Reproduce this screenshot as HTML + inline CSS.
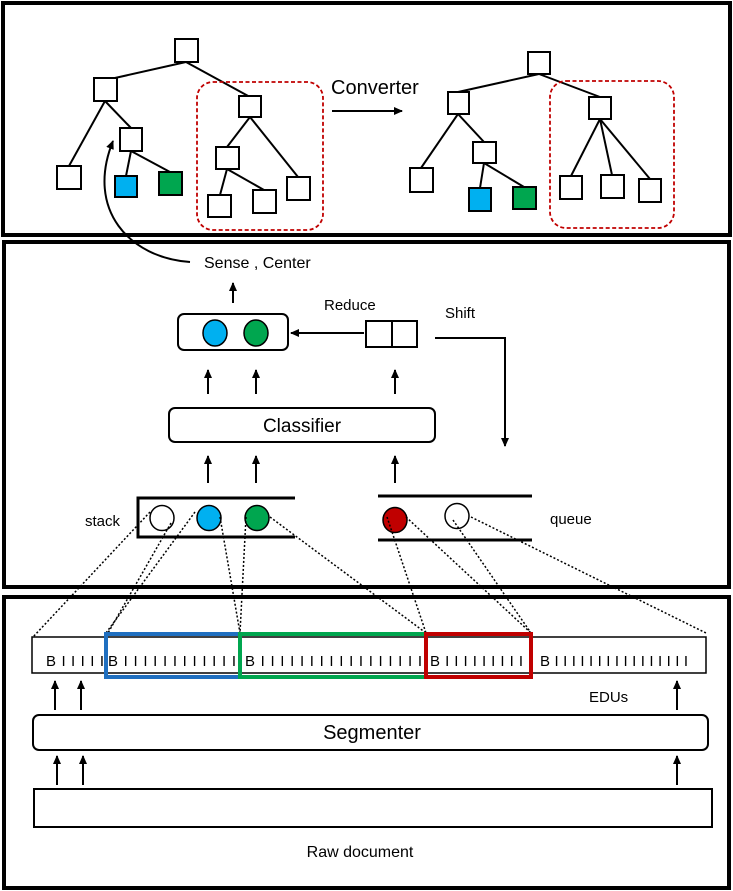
<!DOCTYPE html>
<html><head><meta charset="utf-8"><style>
html,body{margin:0;padding:0;background:#fff;}
svg{display:block;font-family:"Liberation Sans",sans-serif;}
</style></head><body>
<svg width="733" height="891" viewBox="0 0 733 891" xmlns="http://www.w3.org/2000/svg">
<defs>
<marker id="ah" markerWidth="10" markerHeight="10" refX="8" refY="5" orient="auto" markerUnits="userSpaceOnUse"><path d="M0,1 L9,5 L0,9 z" fill="#000"/></marker>
</defs>
<!-- panels -->
<rect x="3" y="3" width="727" height="232" fill="none" stroke="#000" stroke-width="4"/>
<rect x="4" y="242" width="725" height="345" fill="none" stroke="#000" stroke-width="4"/>
<rect x="4" y="597" width="725" height="291" fill="none" stroke="#000" stroke-width="4"/>

<!-- left tree lines -->
<g stroke="#000" stroke-width="2" fill="none">
<line x1="186" y1="62" x2="106" y2="80"/>
<line x1="186" y1="62" x2="250" y2="97"/>
<line x1="105" y1="101" x2="69" y2="166"/>
<line x1="105" y1="101" x2="131" y2="128"/>
<line x1="131" y1="151" x2="126" y2="176"/>
<line x1="131" y1="151" x2="170" y2="172"/>
<line x1="250" y1="117" x2="227" y2="147"/>
<line x1="250" y1="117" x2="298" y2="177"/>
<line x1="227" y1="169" x2="220" y2="195"/>
<line x1="227" y1="169" x2="264" y2="190"/>
<!-- right tree -->
<line x1="539" y1="74" x2="458" y2="92"/>
<line x1="539" y1="74" x2="600" y2="97"/>
<line x1="458" y1="114" x2="421" y2="168"/>
<line x1="458" y1="114" x2="484" y2="142"/>
<line x1="484" y1="163" x2="480" y2="188"/>
<line x1="484" y1="163" x2="524" y2="187"/>
<line x1="600" y1="119" x2="571" y2="176"/>
<line x1="600" y1="119" x2="612" y2="175"/>
<line x1="600" y1="119" x2="650" y2="179"/>
</g>
<g stroke="#000" stroke-width="2" fill="#fff">
<rect x="175" y="39" width="23" height="23"/>
<rect x="94" y="78" width="23" height="23"/>
<rect x="120" y="128" width="22" height="23"/>
<rect x="57" y="166" width="24" height="23"/>
<rect x="115" y="176" width="22" height="21" fill="#00b0f0"/>
<rect x="159" y="172" width="23" height="23" fill="#00a64f"/>
<rect x="239" y="96" width="22" height="21"/>
<rect x="216" y="147" width="23" height="22"/>
<rect x="287" y="177" width="23" height="23"/>
<rect x="208" y="195" width="23" height="22"/>
<rect x="253" y="190" width="23" height="23"/>
<rect x="528" y="52" width="22" height="22"/>
<rect x="448" y="92" width="21" height="22"/>
<rect x="410" y="168" width="23" height="24"/>
<rect x="473" y="142" width="23" height="21"/>
<rect x="469" y="188" width="22" height="23" fill="#00b0f0"/>
<rect x="513" y="187" width="23" height="22" fill="#00a64f"/>
<rect x="589" y="97" width="22" height="22"/>
<rect x="560" y="176" width="22" height="23"/>
<rect x="601" y="175" width="23" height="23"/>
<rect x="639" y="179" width="22" height="23"/>
</g>
<rect x="197" y="82" width="126" height="148" rx="16" fill="none" stroke="#c00000" stroke-width="1.8" stroke-dasharray="4,2.5"/>
<rect x="550" y="81" width="124" height="147" rx="16" fill="none" stroke="#c00000" stroke-width="1.8" stroke-dasharray="4,2.5"/>
<text x="331" y="94" font-size="20">Converter</text>
<line x1="332" y1="111" x2="402" y2="111" stroke="#000" stroke-width="2" marker-end="url(#ah)"/>
<path d="M190,262 C130,258 85,210 113,141" fill="none" stroke="#000" stroke-width="2" marker-end="url(#ah)"/>

<!-- middle panel -->
<text x="204" y="268" font-size="16">Sense , Center</text>
<line x1="233" y1="303" x2="233" y2="283" stroke="#000" stroke-width="2" marker-end="url(#ah)"/>
<text x="324" y="310" font-size="15">Reduce</text>
<text x="445" y="318" font-size="15">Shift</text>
<rect x="178" y="314" width="110" height="36" rx="6" fill="#fff" stroke="#000" stroke-width="2"/>
<ellipse cx="215" cy="333" rx="12" ry="13" fill="#00b0f0" stroke="#000" stroke-width="1.5"/>
<ellipse cx="256" cy="333" rx="12" ry="13" fill="#00a64f" stroke="#000" stroke-width="1.5"/>
<line x1="364" y1="333" x2="291" y2="333" stroke="#000" stroke-width="2" marker-end="url(#ah)"/>
<rect x="366" y="321" width="51" height="26" fill="#fff" stroke="#000" stroke-width="2"/>
<line x1="392" y1="321" x2="392" y2="347" stroke="#000" stroke-width="2"/>
<polyline points="435,338 505,338 505,446" fill="none" stroke="#000" stroke-width="2" marker-end="url(#ah)"/>
<g stroke="#000" stroke-width="2" marker-end="url(#ah)">
<line x1="208" y1="394" x2="208" y2="370"/>
<line x1="256" y1="394" x2="256" y2="370"/>
<line x1="395" y1="394" x2="395" y2="370"/>
<line x1="208" y1="483" x2="208" y2="456"/>
<line x1="256" y1="483" x2="256" y2="456"/>
<line x1="395" y1="483" x2="395" y2="456"/>
</g>
<rect x="169" y="408" width="266" height="34" rx="6" fill="#fff" stroke="#000" stroke-width="2"/>
<text x="302" y="432" font-size="19" text-anchor="middle">Classifier</text>

<text x="85" y="526" font-size="15">stack</text>
<polyline points="295,498 138,498 138,537 295,537" fill="none" stroke="#000" stroke-width="3"/>
<ellipse cx="162" cy="518" rx="12" ry="12.5" fill="#fff" stroke="#000" stroke-width="1.5"/>
<ellipse cx="209" cy="518" rx="12" ry="12.5" fill="#00b0f0" stroke="#000" stroke-width="1.5"/>
<ellipse cx="257" cy="518" rx="12" ry="12.5" fill="#00a64f" stroke="#000" stroke-width="1.5"/>
<line x1="378" y1="496" x2="532" y2="496" stroke="#000" stroke-width="3"/>
<line x1="378" y1="540" x2="532" y2="540" stroke="#000" stroke-width="3"/>
<ellipse cx="395" cy="520" rx="12" ry="12.5" fill="#c00000" stroke="#000" stroke-width="1.5"/>
<ellipse cx="457" cy="516" rx="12" ry="12.5" fill="#fff" stroke="#000" stroke-width="1.5"/>
<text x="550" y="524" font-size="15">queue</text>

<!-- dotted lines -->
<g stroke="#000" stroke-width="1.5" stroke-dasharray="2,2" fill="none">
<line x1="150" y1="512" x2="33" y2="637"/>
<line x1="171" y1="523" x2="108" y2="633"/>
<line x1="195" y1="512" x2="106" y2="633"/>
<line x1="220" y1="517" x2="240" y2="633"/>
<line x1="246" y1="517" x2="240" y2="633"/>
<line x1="270" y1="517" x2="426" y2="633"/>
<line x1="387" y1="517" x2="426" y2="633"/>
<line x1="406" y1="517" x2="531" y2="633"/>
<line x1="453" y1="520" x2="531" y2="633"/>
<line x1="471" y1="517" x2="706" y2="633"/>
</g>

<!-- bottom panel -->
<rect x="32" y="637" width="674" height="36" fill="#fff" stroke="#000" stroke-width="1.5"/>
<rect x="106" y="634" width="134" height="43" fill="none" stroke="#1f6fc0" stroke-width="4"/>
<rect x="240" y="634" width="186" height="43" fill="none" stroke="#00a64f" stroke-width="4"/>
<rect x="426" y="634" width="105" height="43" fill="none" stroke="#c00000" stroke-width="4"/>
<g font-size="15">
<text x="46" y="666" textLength="58" lengthAdjust="spacing">BIIIII</text>
<text x="108" y="666" textLength="128" lengthAdjust="spacing">BIIIIIIIIIIII</text>
<text x="245" y="666" textLength="177" lengthAdjust="spacing">BIIIIIIIIIIIIIIIII</text>
<text x="430" y="666" textLength="93" lengthAdjust="spacing">BIIIIIIIII</text>
<text x="540" y="666" textLength="148" lengthAdjust="spacing">BIIIIIIIIIIIIIIII</text>
</g>
<text x="589" y="702" font-size="15">EDUs</text>
<g stroke="#000" stroke-width="2" marker-end="url(#ah)">
<line x1="55" y1="710" x2="55" y2="681"/>
<line x1="81" y1="710" x2="81" y2="681"/>
<line x1="677" y1="710" x2="677" y2="681"/>
<line x1="57" y1="785" x2="57" y2="756"/>
<line x1="83" y1="785" x2="83" y2="756"/>
<line x1="677" y1="785" x2="677" y2="756"/>
</g>
<rect x="33" y="715" width="675" height="35" rx="6" fill="#fff" stroke="#000" stroke-width="2"/>
<text x="372" y="739" font-size="20" text-anchor="middle">Segmenter</text>
<rect x="34" y="789" width="678" height="38" fill="#fff" stroke="#000" stroke-width="2"/>
<text x="360" y="857" font-size="16" text-anchor="middle">Raw document</text>
</svg>
</body></html>
